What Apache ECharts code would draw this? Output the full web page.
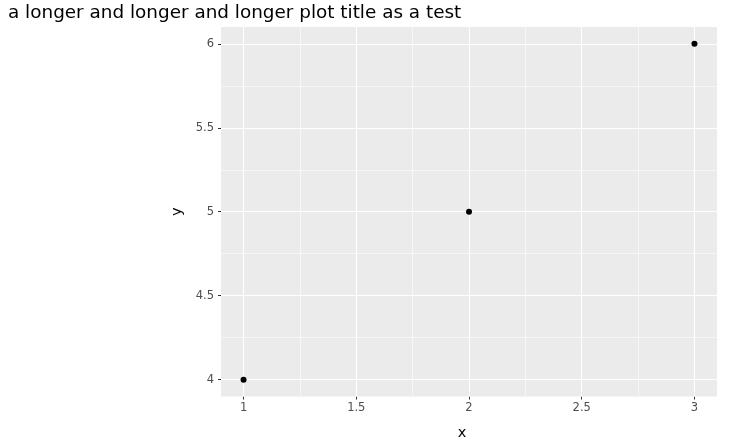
<!DOCTYPE html>
<html>
<head>
<meta charset="utf-8">
<script src="https://cdn.jsdelivr.net/npm/echarts@6/dist/echarts.min.js"></script>
<style>
html,body{margin:0;padding:0;background:#fff;}
#c{width:735px;height:441px;}
</style>
</head>
<body>
<div id="c"></div>
<script>
const titleText = 'a longer and longer and longer plot title as a test';
const xValues = [1, 2, 3];
const yValues = [4, 5, 6];
const xMajorTicks = [1, 1.5, 2, 2.5, 3];
const xMinorTicks = [1.25, 1.75, 2.25, 2.75];
const yMajorTicks = [4, 4.5, 5, 5.5, 6];
const yMinorTicks = [4.25, 4.75, 5.25, 5.75];
const xRange = [0.9, 3.1];
const yRange = [3.9, 6.1];

const chart = echarts.init(document.getElementById('c'), null, {renderer: 'canvas'});

const font = 'DejaVu Sans';
const gridLines = [];
xMinorTicks.forEach(v => gridLines.push({xAxis: v, lineStyle: {width: 0.55}}));
yMinorTicks.forEach(v => gridLines.push({yAxis: v, lineStyle: {width: 0.55}}));
xMajorTicks.forEach(v => gridLines.push({xAxis: v, lineStyle: {width: 1.1}}));
yMajorTicks.forEach(v => gridLines.push({yAxis: v, lineStyle: {width: 1.1}}));

chart.setOption({
  animation: false,
  backgroundColor: '#ffffff',
  title: {
    text: titleText,
    left: 3,
    top: -1,
    textStyle: {fontFamily: font, fontSize: 18.4, fontWeight: 'normal', color: '#000000'}
  },
  grid: {
    left: 221, right: 18, top: 27, bottom: 44.5,
    outerBoundsMode: 'none',
    containLabel: false,
    show: true, backgroundColor: '#EBEBEB', borderWidth: 0
  },
  xAxis: {
    type: 'value',
    min: xRange[0], max: xRange[1],
    name: 'x', nameLocation: 'middle', nameGap: 29,
    nameTextStyle: {fontFamily: font, fontSize: 14.5, color: '#000000', padding: [0, 14, 0, 0]},
    axisLine: {show: false},
    splitLine: {show: false},
    axisTick: {show: true, customValues: xMajorTicks, length: 3, lineStyle: {color: '#333333', width: 1}},
    axisLabel: {customValues: xMajorTicks, fontFamily: font, fontSize: 11.5, color: '#4D4D4D', margin: 6}
  },
  yAxis: {
    type: 'value',
    min: yRange[0], max: yRange[1],
    name: 'y', nameLocation: 'middle', nameGap: 35,
    nameTextStyle: {fontFamily: font, fontSize: 14.5, color: '#000000'},
    axisLine: {show: false},
    splitLine: {show: false},
    axisTick: {show: true, customValues: yMajorTicks, length: 3, lineStyle: {color: '#333333', width: 1}},
    axisLabel: {customValues: yMajorTicks, fontFamily: font, fontSize: 11.5, color: '#4D4D4D', margin: 7}
  },
  series: [
    {
      type: 'scatter',
      data: [],
      silent: true,
      z: 1,
      markLine: {
        silent: true,
        symbol: ['none', 'none'],
        label: {show: false},
        animation: false,
        lineStyle: {color: '#FFFFFF', type: 'solid'},
        emphasis: {disabled: true},
        data: gridLines
      }
    },
    {
      type: 'scatter',
      z: 5,
      symbol: 'circle',
      symbolSize: 6,
      itemStyle: {color: '#000000', opacity: 1},
      data: xValues.map((x, i) => [x, yValues[i]])
    }
  ]
});
</script>
</body>
</html>
